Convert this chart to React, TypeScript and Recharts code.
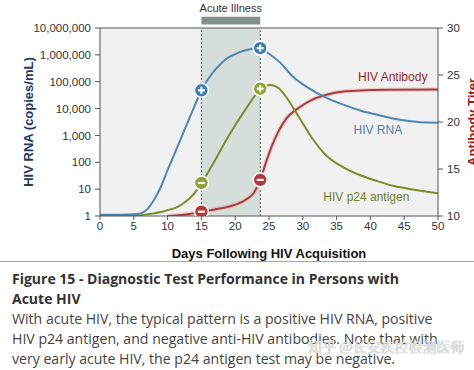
import {
  LineChart,
  Line,
  XAxis,
  YAxis,
  CartesianGrid,
  ReferenceArea,
  ReferenceLine,
  ReferenceDot,
} from "recharts"

// HIV RNA, copies/mL (left log axis)
const rnaDays = [0, 3, 5, 6, 7, 8, 9, 10, 11, 12, 13, 14, 15, 16.5, 18, 19, 20, 21.5, 23, 23.7, 25, 26.5, 28.6, 31, 33.5, 36, 38.5, 41, 43.5, 46, 48.5, 50]
const rnaCopies = [1.12, 1.12, 1.15, 1.25, 1.8, 4, 12, 51, 200, 800, 3200, 12600, 48000, 190000, 500000, 800000, 1070000, 1480000, 1740000, 1780000, 1100000, 560000, 150000, 55000, 25000, 14000, 8500, 5900, 4200, 3400, 3000, 2950]

// HIV p24 antigen (left log axis)
const p24Days = [0, 5, 7, 9, 10, 11.5, 12.5, 13.5, 14.3, 15, 16.5, 19, 21.5, 23, 23.7, 25.2, 26.5, 27.4, 29.6, 31.5, 33.5, 36, 38.5, 41, 43.5, 46.5, 50]
const p24Values = [1, 1.05, 1.15, 1.4, 1.65, 2.2, 3.2, 5.2, 9, 17, 70, 930, 9100, 32000, 55000, 76000, 56000, 30000, 4100, 720, 175, 65, 33, 20, 13, 9.5, 7]

// HIV antibody titer (right axis)
const abDays = [10, 12, 13.5, 15, 17, 19, 21.5, 22.8, 23.7, 24.5, 25.4, 26.4, 27.4, 29.6, 31.5, 33.5, 36, 38.5, 43, 50]
const abTiter = [10, 10.1, 10.25, 10.46, 10.7, 10.99, 11.7, 12.5, 13.84, 15.6, 17.4, 19.0, 20.2, 21.6, 22.4, 22.9, 23.25, 23.35, 23.42, 23.45]

// test result markers at start / end of acute illness
const markerDays = [15, 23.7]
const rnaSigns = ["+", "+"]
const p24Signs = ["-", "+"]
const abSigns = ["-", "-"]

const illnessStart = 15
const illnessEnd = 23.7

const dayTicks = [0, 5, 10, 15, 20, 25, 30, 35, 40, 45, 50]
const rnaTicks = [1, 10, 100, 1000, 10000, 100000, 1000000, 10000000]
const titerTicks = [10, 15, 20, 25, 30]

const toRows = (days: number[], vals: number[]) => days.map((day, i) => ({ day, v: vals[i] }))

const rnaData = toRows(rnaDays, rnaCopies)
const p24Data = toRows(p24Days, p24Values)
const abData = toRows(abDays, abTiter)

const axisFont = "'Liberation Sans', Arial, sans-serif"
const AXIS = "#555"

function markerDot(signs: string[], color: string) {
  return (props: any) => {
    const { cx, cy, payload, index } = props
    const i = markerDays.indexOf(payload.day)
    if (i < 0 || cx == null) return <g key={`d${index}`} />
    const plus = signs[i] === "+"
    return (
      <g key={`d${index}`}>
        <circle cx={cx} cy={cy} r={7} fill={color} stroke="#fff" strokeWidth={1.6} />
        <line x1={cx - 3.5} x2={cx + 3.5} y1={cy} y2={cy} stroke="#fff" strokeWidth={2.2} />
        {plus && <line x1={cx} x2={cx} y1={cy - 3.5} y2={cy + 3.5} stroke="#fff" strokeWidth={2.2} />}
      </g>
    )
  }
}

function VTitle(props: any) {
  const { viewBox, value, fill, baseX } = props
  const cy = viewBox ? viewBox.y + viewBox.height / 2 : 122
  return (
    <text
      x={baseX}
      y={cy}
      transform={`rotate(-90 ${baseX} ${cy})`}
      textAnchor="middle"
      fill={fill}
      fontFamily={axisFont}
      fontWeight="bold"
      fontSize={13}
    >
      {value}
    </text>
  )
}

export default function App() {
  return (
    <div
      style={{
        position: "absolute",
        left: 0,
        top: 0,
        width: 474,
        height: 370,
        background: "#fff",
        overflow: "hidden",
      }}
    >
      <LineChart width={474} height={262} margin={{ top: 28, right: 0, bottom: 0, left: 0 }}>
        <CartesianGrid fill="#f1f1f1" horizontal={false} vertical={false} />
        <XAxis
          dataKey="day"
          type="number"
          domain={[0, 50]}
          ticks={dayTicks}
          allowDataOverflow
          height={46}
          stroke={AXIS}
          tickSize={4}
          tick={{ fill: "#333", fontSize: 11.5, fontFamily: axisFont }}
          label={{
            value: "Days Following HIV Acquisition",
            position: "insideBottom",
            offset: 4,
            fill: "#111",
            fontSize: 13,
            fontWeight: "bold",
            fontFamily: axisFont,
          }}
        />
        <YAxis
          yAxisId="rna"
          scale="log"
          domain={[1, 10000000]}
          ticks={rnaTicks}
          allowDataOverflow
          width={100}
          stroke={AXIS}
          tickSize={5}
          tickMargin={4}
          tickFormatter={(v: number) => v.toLocaleString("en-US")}
          tick={{ fill: "#333", fontSize: 11.5, fontFamily: axisFont }}
          label={<VTitle value="HIV RNA (copies/mL)" fill="#1e3a68" baseX={33} />}
        />
        <YAxis
          yAxisId="ab"
          orientation="right"
          domain={[10, 30]}
          ticks={titerTicks}
          allowDataOverflow
          width={36}
          stroke={AXIS}
          tickSize={5}
          tickMargin={4}
          tick={{ fill: "#333", fontSize: 11.5, fontFamily: axisFont }}
          label={<VTitle value="Antibody Titer" fill="#8b2323" baseX={477} />}
        />

        <ReferenceArea yAxisId="rna" x1={illnessStart} x2={illnessEnd} fill="#d6dedb" fillOpacity={1} />
        <ReferenceArea
          yAxisId="rna"
          x1={illnessStart}
          x2={illnessEnd}
          y1={13500000}
          y2={26000000}
          ifOverflow="visible"
          fill="#7f918a"
          fillOpacity={1}
          label={{
            value: "Acute Illness",
            position: "top",
            offset: 5,
            fill: "#333",
            fontSize: 11,
            fontFamily: axisFont,
          }}
        />
        <ReferenceLine yAxisId="rna" x={illnessStart} stroke="#555" strokeDasharray="2 2" />
        <ReferenceLine yAxisId="rna" x={illnessEnd} stroke="#555" strokeDasharray="2 2" />
        <ReferenceLine yAxisId="rna" y={10000000} stroke={AXIS} />

        <Line
          yAxisId="ab"
          data={abData}
          dataKey="v"
          type="monotone"
          stroke="#e9a3a3"
          strokeOpacity={0.4}
          strokeWidth={4.5}
          dot={false}
          activeDot={false}
          isAnimationActive={false}
        />
        <Line
          yAxisId="ab"
          data={abData}
          dataKey="v"
          type="monotone"
          stroke="#a63d3f"
          strokeWidth={2}
          dot={markerDot(abSigns, "#b5393b")}
          activeDot={false}
          isAnimationActive={false}
        />
        <Line
          yAxisId="rna"
          data={p24Data}
          dataKey="v"
          type="monotone"
          stroke="#7b8c2b"
          strokeWidth={2}
          dot={markerDot(p24Signs, "#8da334")}
          activeDot={false}
          isAnimationActive={false}
        />
        <Line
          yAxisId="rna"
          data={rnaData}
          dataKey="v"
          type="monotone"
          stroke="#4c87b5"
          strokeWidth={2}
          dot={markerDot(rnaSigns, "#3d7db4")}
          activeDot={false}
          isAnimationActive={false}
        />

        <ReferenceDot
          yAxisId="ab"
          x={43.3}
          y={24.8}
          r={0}
          fill="none"
          stroke="none"
          label={{ value: "HIV Antibody", position: "center", fill: "#8e2c2c", fontSize: 12, fontFamily: axisFont }}
        />
        <ReferenceDot
          yAxisId="ab"
          x={41.1}
          y={19.2}
          r={0}
          fill="none"
          stroke="none"
          label={{ value: "HIV RNA", position: "center", fill: "#4d7fae", fontSize: 12, fontFamily: axisFont }}
        />
        <ReferenceDot
          yAxisId="ab"
          x={39.4}
          y={12.0}
          r={0}
          fill="none"
          stroke="none"
          label={{ value: "HIV p24 antigen", position: "center", fill: "#6f7f2c", fontSize: 12, fontFamily: axisFont }}
        />
      </LineChart>

      <div style={{ position: "absolute", top: 261, left: 0, width: 474, borderTop: "1px solid #a8a8a8" }} />
      <div
        style={{
          position: "absolute",
          top: 269,
          left: 12,
          fontFamily: "'Open Sans', sans-serif",
          whiteSpace: "nowrap",
          lineHeight: "20px",
        }}
      >
        <div style={{ fontWeight: 700, fontSize: 14, color: "#333" }}>
          Figure 15 - Diagnostic Test Performance in Persons with
          <br />
          Acute HIV
        </div>
        <div style={{ fontSize: 14.1, color: "#444" }}>
          With acute HIV, the typical pattern is a positive HIV RNA, positive
          <br />
          HIV p24 antigen, and negative anti-HIV antibodies. Note that with
          <br />
          very early acute HIV, the p24 antigen test may be negative.
        </div>
      </div>
      <div
        style={{
          position: "absolute",
          top: 336,
          left: 308,
          fontFamily: "'Noto Sans CJK SC', sans-serif",
          fontSize: 14,
          color: "#e6e6e6",
          textShadow: "0 0 1px #9a9a9a",
          whiteSpace: "nowrap",
        }}
      >
        知乎 @长安疾控检测医师
      </div>
    </div>
  )
}
